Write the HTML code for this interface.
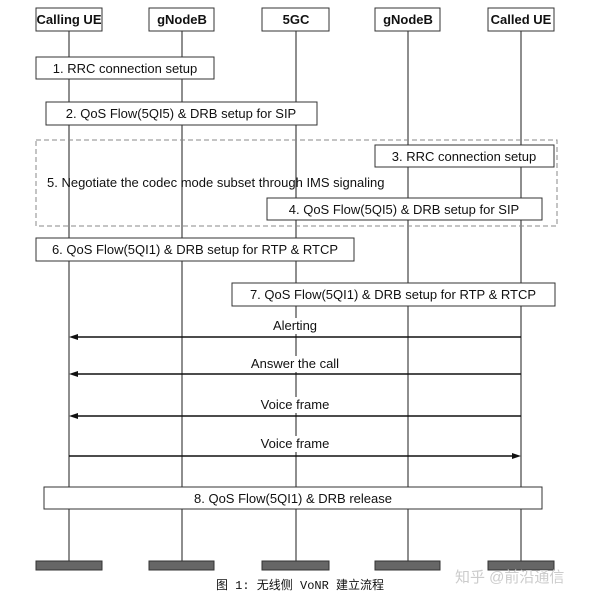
<!DOCTYPE html>
<html><head><meta charset="utf-8"><style>
body{margin:0;background:#fff}
svg text{font-family:"Liberation Sans","Noto Sans CJK SC",sans-serif;font-size:13px;fill:#111}
</style></head><body>
<svg width="600" height="602" viewBox="0 0 600 602" xmlns="http://www.w3.org/2000/svg">
<g stroke="#444" stroke-width="1.2">
<line x1="69" y1="30" x2="69" y2="562"/>
<line x1="182" y1="30" x2="182" y2="562"/>
<line x1="296" y1="30" x2="296" y2="562"/>
<line x1="408" y1="30" x2="408" y2="562"/>
<line x1="521" y1="30" x2="521" y2="562"/>
</g>
<rect x="36" y="140" width="521" height="86" fill="none" stroke="#888" stroke-dasharray="5,3"/>
<g fill="#fff" stroke="#333" stroke-width="1">
<rect x="36" y="8" width="66" height="23"/>
<rect x="149" y="8" width="65" height="23"/>
<rect x="262" y="8" width="67" height="23"/>
<rect x="375" y="8" width="65" height="23"/>
<rect x="488" y="8" width="66" height="23"/>
<rect x="36" y="57" width="178" height="22"/>
<rect x="46" y="102" width="271" height="23"/>
<rect x="375" y="145" width="179" height="22"/>
<rect x="267" y="198" width="275" height="22"/>
<rect x="36" y="238" width="318" height="23"/>
<rect x="232" y="283" width="323" height="23"/>
<rect x="44" y="487" width="498" height="22"/>
<rect x="290" y="318" width="12" height="16" stroke="none"/>
<rect x="290" y="356" width="12" height="16" stroke="none"/>
<rect x="290" y="397" width="12" height="16" stroke="none"/>
<rect x="290" y="436" width="12" height="16" stroke="none"/>
</g>
<g fill="#666" stroke="#333" stroke-width="1">
<rect x="36" y="561" width="66" height="9"/>
<rect x="149" y="561" width="65" height="9"/>
<rect x="262" y="561" width="67" height="9"/>
<rect x="375" y="561" width="65" height="9"/>
<rect x="488" y="561" width="66" height="9"/>
</g>
<g text-anchor="middle">
<text x="69" y="24" font-weight="bold" font-size="11.5">Calling UE</text>
<text x="182" y="24" font-weight="bold" font-size="12">gNodeB</text>
<text x="296" y="24" font-weight="bold" font-size="12">5GC</text>
<text x="408" y="24" font-weight="bold" font-size="12">gNodeB</text>
<text x="521" y="24" font-weight="bold" font-size="11.5">Called UE</text>
</g>
<g text-anchor="middle">
<text x="125" y="73">1. RRC connection setup</text>
<text x="181" y="118">2. QoS Flow(5QI5) &amp; DRB setup for SIP</text>
<text x="464" y="161">3. RRC connection setup</text>
<text x="404" y="214">4. QoS Flow(5QI5) &amp; DRB setup for SIP</text>
<text x="195" y="254">6. QoS Flow(5QI1) &amp; DRB setup for RTP &amp; RTCP</text>
<text x="393" y="299">7. QoS Flow(5QI1) &amp; DRB setup for RTP &amp; RTCP</text>
<text x="293" y="503">8. QoS Flow(5QI1) &amp; DRB release</text>
<text x="295" y="330">Alerting</text>
<text x="295" y="368">Answer the call</text>
<text x="295" y="409">Voice frame</text>
<text x="295" y="448">Voice frame</text>
</g>
<text x="47" y="187" font-size="13.3">5. Negotiate the codec mode subset through IMS signaling</text>
<g stroke="#111" stroke-width="1.6">
<line x1="76" y1="337" x2="521" y2="337"/>
<line x1="76" y1="374" x2="521" y2="374"/>
<line x1="76" y1="416" x2="521" y2="416"/>
<line x1="69" y1="456" x2="514" y2="456"/>
</g>
<g fill="#111">
<polygon points="69,337 78,334 78,340"/>
<polygon points="69,374 78,371 78,377"/>
<polygon points="69,416 78,413 78,419"/>
<polygon points="521,456 512,453 512,459"/>
</g>
<text x="300" y="589" text-anchor="middle" style="font-family:'Liberation Mono','Noto Sans CJK SC',monospace;font-size:12px">图 1: 无线侧 VoNR 建立流程</text>
<text x="455" y="582" style="font-size:15px;fill:#ccc">知乎 @前沿通信</text>
</svg>
</body></html>
